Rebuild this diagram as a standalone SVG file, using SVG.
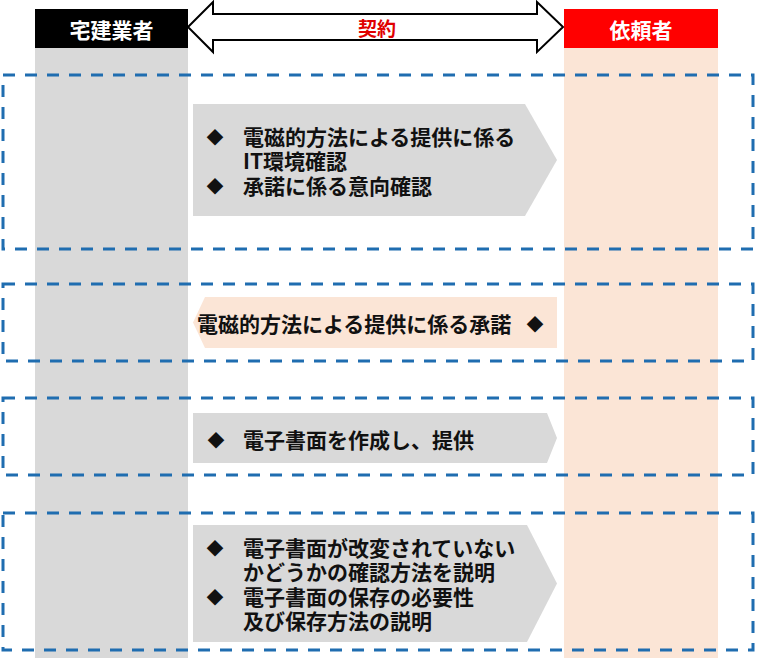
<svg xmlns="http://www.w3.org/2000/svg" width="761" height="658" viewBox="0 0 761 658">
<style>
.t{font-family:"Noto Sans CJK JP","Noto Sans",sans-serif;font-weight:bold;font-size:21px;fill:#111;dominant-baseline:central}
.h{font-family:"Noto Sans CJK JP","Noto Sans",sans-serif;font-weight:bold;font-size:21px;fill:#fff;dominant-baseline:central;text-anchor:middle}
.d{text-anchor:middle;font-size:17px}
.dash{fill:none;stroke:#1f6db0;stroke-width:3;stroke-dasharray:12 10}
</style>
<rect width="761" height="658" fill="#fff"/>
<g id="lane-left">
<rect x="35" y="48" width="153" height="610" fill="#d9d9d9"/>
<rect x="35" y="9" width="153" height="39" fill="#000"/>
<text class="h" x="111.5" y="28.5">宅建業者</text>
</g>
<g id="lane-right">
<rect x="564" y="48" width="154" height="610" fill="#fbe5d6"/>
<rect x="564" y="9" width="154" height="39" fill="#ff0000"/>
<text class="h" x="641" y="28.5">依頼者</text>
</g>
<g id="connectors">
<path d="M188,27 L213,2 V14 H537 V2 L563,27 L537,52 V40 H213 V52 Z" fill="#fff" stroke="#000" stroke-width="2" stroke-linejoin="miter"/>
<text class="t" x="377" y="27" text-anchor="middle" style="fill:#e00000;font-size:19px">契約</text>
</g>
<g id="frames">
<rect class="dash" x="3" y="75" width="750" height="174"/>
<rect class="dash" x="3" y="284" width="750" height="77"/>
<rect class="dash" x="3" y="398" width="750" height="77"/>
<rect class="dash" x="3" y="513" width="750" height="137"/>
</g>
<g id="step1">
<path d="M193,104 H525 L557,160 L525,216 H193 Z" fill="#d9d9d9"/>
<text class="t d" x="215" y="136">◆</text>
<text class="t" x="243" y="136">電磁的方法による提供に係る</text>
<text class="t" x="243" y="160">IT環境確認</text>
<text class="t d" x="215" y="185">◆</text>
<text class="t" x="243" y="185">承諾に係る意向確認</text>
</g>
<g id="step2">
<path d="M205,297 H557 V348 H205 L193,322.5 Z" fill="#fbe5d6"/>
<text class="t" x="197" y="323">電磁的方法による提供に係る承諾</text>
<text class="t d" x="535" y="323">◆</text>
</g>
<g id="step3">
<path d="M193,413 H547 L557,438 L547,463 H193 Z" fill="#d9d9d9"/>
<text class="t d" x="216" y="439">◆</text>
<text class="t" x="243" y="439">電子書面を作成し、提供</text>
</g>
<g id="step4">
<path d="M193,525 H527 L557,583.5 L527,642 H193 Z" fill="#d9d9d9"/>
<text class="t d" x="215" y="547">◆</text>
<text class="t" x="243" y="547">電子書面が改変されていない</text>
<text class="t" x="243" y="571">かどうかの確認方法を説明</text>
<text class="t d" x="215" y="596">◆</text>
<text class="t" x="243" y="596">電子書面の保存の必要性</text>
<text class="t" x="243" y="620">及び保存方法の説明</text>
</g>
</svg>
